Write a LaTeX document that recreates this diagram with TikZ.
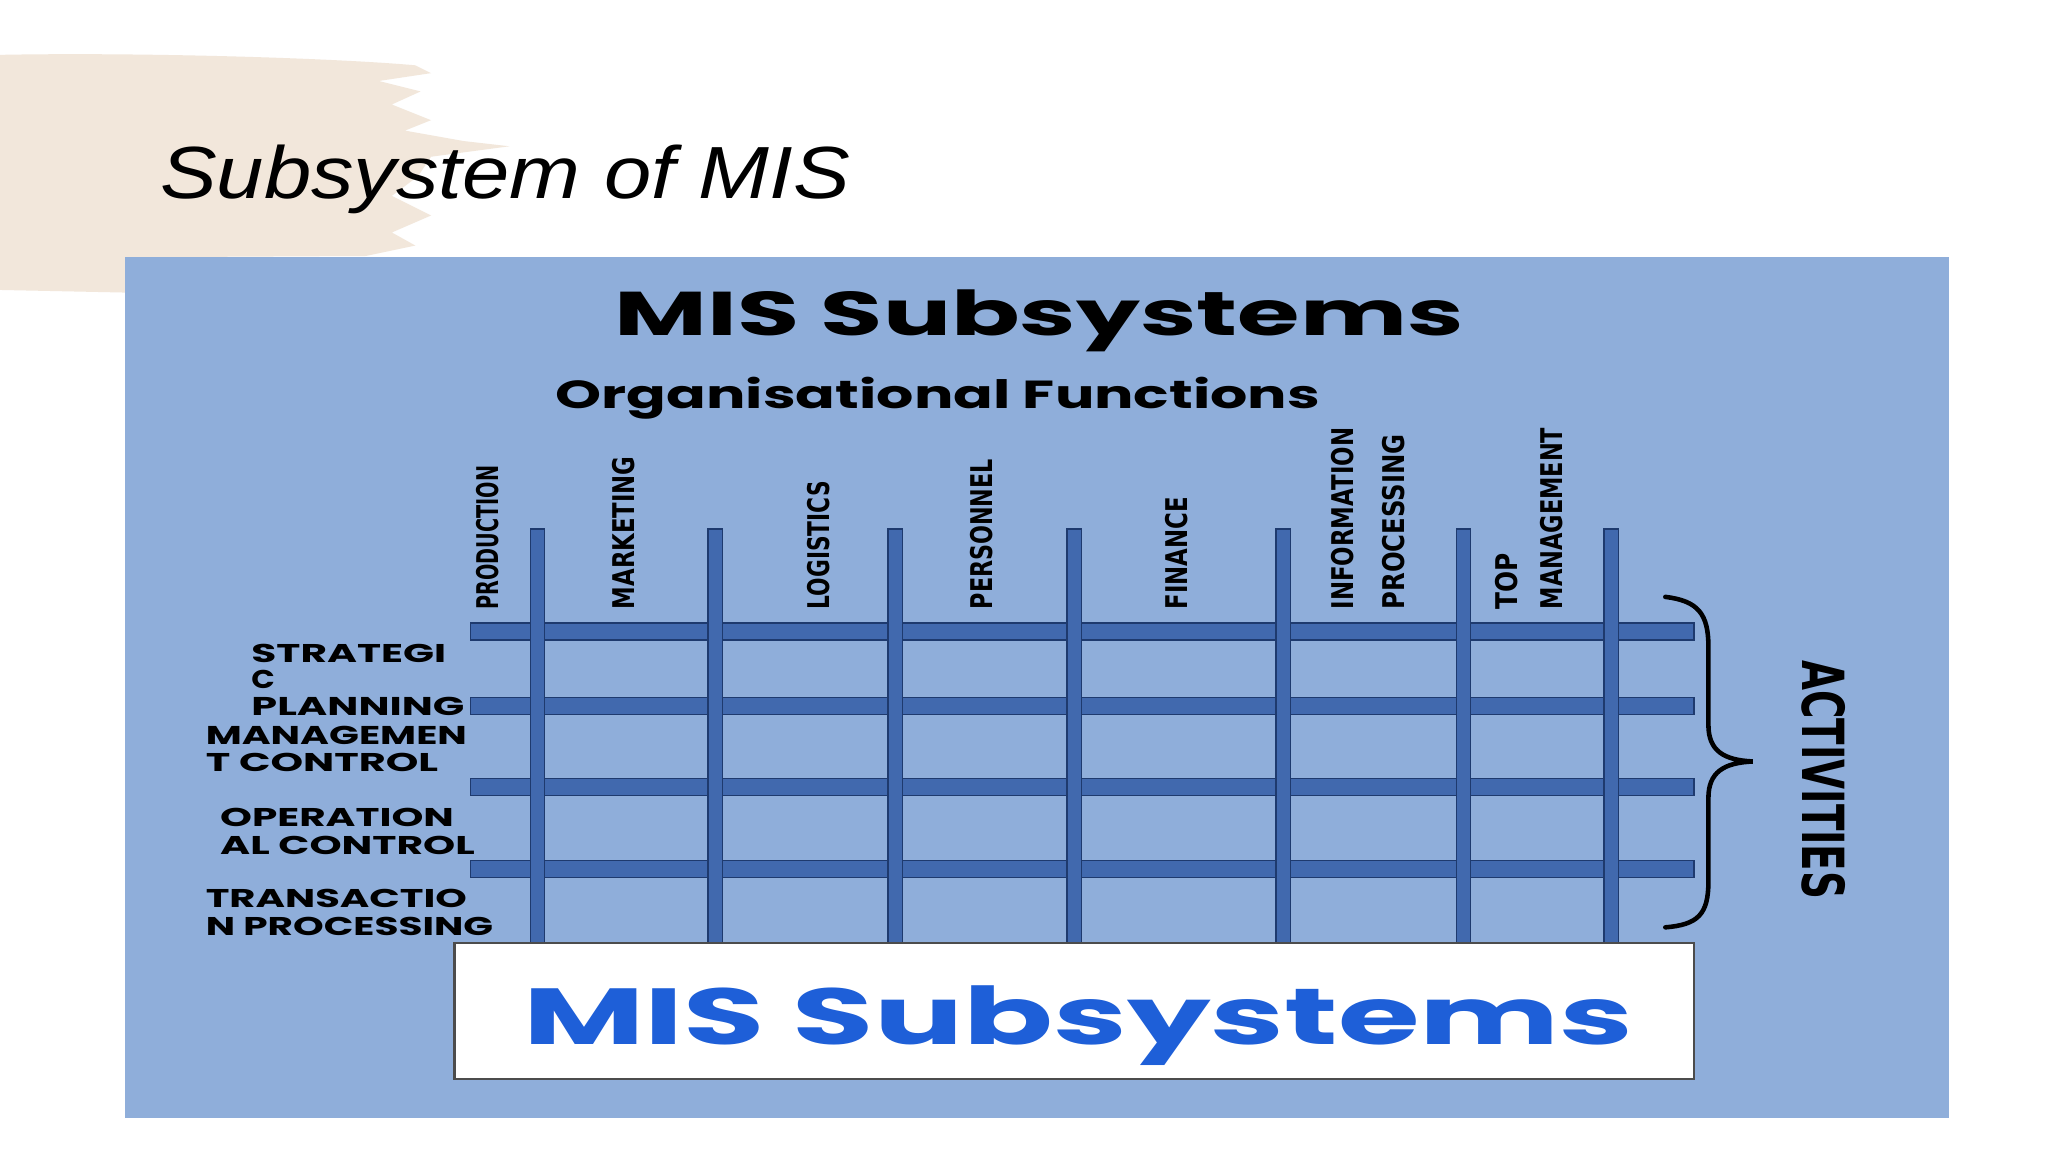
\documentclass[tikz,border=0pt]{standalone}
\usepackage{fontspec}
\setmainfont{Liberation Sans}
\newfontfamily\heavy{Poppins}[UprightFont=* Bold]
\newfontfamily\dvb{DejaVu Sans}[UprightFont=* Bold]
\newlength\du \setlength\du{0.01306cm}
\newcommand\fitd[3]{\resizebox{#1\du}{#2\du}{#3}}
\definecolor{panel}{HTML}{8FAEDA}
\definecolor{bar}{HTML}{4169AE}
\definecolor{barline}{HTML}{1E3A6E}
\definecolor{beige}{HTML}{F2E7DB}
\definecolor{mblue}{HTML}{1E5FD8}
\begin{document}
\begin{tikzpicture}[x=0.01306cm,y=-0.01306cm,
  hbar/.style={fill=bar,draw=barline,line width=0.4pt},
  lbl/.style={inner sep=0pt,anchor=base west}]
\useasboundingbox (0,0) rectangle (1568,882);
\fill[white] (0,0) rectangle (1568,882);
% brush
\fill[beige] (0,42) .. controls (100,40) and (250,44) .. (318,50) -- (330,56) -- (290,62) -- (322,70) -- (300,80) -- (330,92) -- (310,100) -- (355,108) -- (390,112) -- (330,120) -- (320,135) -- (300,150) -- (330,165) -- (300,178) -- (318,188) -- (280,196) -- (96,197) -- (96,224) -- (0,222) -- cycle;
\node[lbl] (title) at (122,152) {\fitd{528}{41}{\itshape Subsystem of MIS}};
% panel
\fill[panel] (96,197) rectangle (1492,856);
\node[lbl] (h1) at (470,257) {\heavy\fitd{650}{35}{MIS Subsystems}};
\node[lbl] (h2) at (425,313) {\heavy\fitd{585}{24}{Organisational Functions}};
% horizontal bars
\foreach \y in {483,540,602,665} \draw[hbar] (360,\y-6) rectangle (1297,\y+7);
% vertical bars
\foreach \x in {411,547,685,822,982,1120,1233} \draw[hbar] (\x-5,405) rectangle (\x+6,722);
% column labels
\foreach \x/\w/\t in {382/110/PRODUCTION,486/117/MARKETING,635/98/LOGISTICS,760/115/PERSONNEL,909/86/FINANCE,1036/139/INFORMATION,1075/134/PROCESSING,1162/43/TOP,1196/139/MANAGEMENT}
  \node[lbl,rotate=90] at (\x,467) {\dvb\fitd{\w}{17}{\t}};
% row labels
\foreach \x/\y/\w/\t in {192/507/149/STRATEGI,192/527/18/C,192/548/163/PLANNING,157/570/200/MANAGEMEN,157/591/178/T CONTROL,168/633/179/OPERATION,168/654/195/AL CONTROL,157/695/200/TRANSACTIO,157/716/220/N PROCESSING}
  \node[lbl] at (\x,\y) {\heavy\fitd{\w}{14}{\t}};
% brace
\draw[line width=1.3pt,line cap=round] (1275,457) .. controls (1300,460) and (1308,470) .. (1308,495) -- (1308,555) .. controls (1308,575) and (1320,582) .. (1342,583) .. controls (1320,584) and (1308,591) .. (1308,611) -- (1308,675) .. controls (1308,700) and (1300,708) .. (1275,710);
\node[lbl,rotate=-90] (act) at (1380,505) {\dvb\fitd{183}{33}{ACTIVITIES}};
% bottom box
\draw[fill=white,draw=black!70,line width=0.6pt] (348,722) rectangle (1297,826);
\node[lbl,text=mblue] (mis) at (400,800) {\heavy\fitd{850}{45}{MIS Subsystems}};
\end{tikzpicture}
\end{document}
